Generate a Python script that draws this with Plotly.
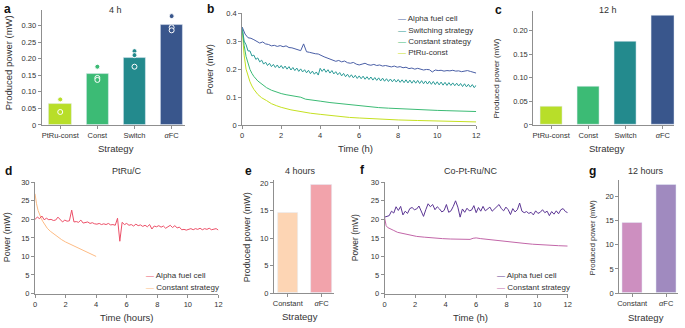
import plotly.graph_objects as go

W, H = 685, 328

# ---------------- data ----------------
strategies = ["PtRu-const", "Const", "Switch", "αFC"]
strategy_ticktext = ["PtRu-const", "Const", "Switch", "<i>α</i>FC"]
bar_colors = ["#b8de29", "#3cbb75", "#238a8d", "#39568c"]

power_4h = [0.063, 0.153, 0.202, 0.303]
pts_4h_cat = ["PtRu-const", "PtRu-const", "Const", "Const", "Const",
              "Switch", "Switch", "Switch", "αFC", "αFC", "αFC"]
pts_4h_val = [0.077, 0.039, 0.176, 0.142, 0.136, 0.223, 0.211, 0.176, 0.329, 0.295, 0.286]

power_12h = [0.039, 0.081, 0.177, 0.231]

# panel b
b_alpha_step = 0.15
b_alpha = [0.350, 0.325, 0.312, 0.310, 0.305, 0.298, 0.293, 0.297, 0.290, 0.288,
           0.283, 0.285, 0.281, 0.284, 0.280, 0.283, 0.277, 0.276, 0.272, 0.268,
           0.266, 0.290, 0.262, 0.260, 0.257, 0.255, 0.254, 0.248, 0.244, 0.240,
           0.236, 0.232, 0.228, 0.231, 0.226, 0.229, 0.223, 0.221, 0.224, 0.218,
           0.215, 0.218, 0.221, 0.216, 0.214, 0.217, 0.213, 0.215, 0.211, 0.213,
           0.210, 0.208, 0.211, 0.207, 0.209, 0.205, 0.207, 0.202, 0.204, 0.200,
           0.203, 0.200, 0.197, 0.199, 0.198, 0.190, 0.197, 0.195, 0.196, 0.193,
           0.195, 0.194, 0.196, 0.193, 0.194, 0.191, 0.193, 0.195, 0.192, 0.188,
           0.186]

b_switch_step = 0.1
b_switch = [0.350, 0.300, 0.287, 0.265, 0.265, 0.247, 0.250, 0.235, 0.240, 0.226,
            0.232, 0.218, 0.225, 0.213, 0.221, 0.209, 0.217, 0.206, 0.215, 0.204,
            0.213, 0.202, 0.211, 0.200, 0.209, 0.197, 0.206, 0.195, 0.204, 0.192,
            0.201, 0.190, 0.198, 0.187, 0.196, 0.184, 0.193, 0.182, 0.190, 0.179,
            0.203, 0.192, 0.201, 0.189, 0.198, 0.186, 0.195, 0.183, 0.191, 0.180,
            0.188, 0.176, 0.185, 0.173, 0.182, 0.171, 0.180, 0.169, 0.178, 0.167,
            0.176, 0.166, 0.175, 0.164, 0.173, 0.163, 0.172, 0.161, 0.170, 0.160,
            0.169, 0.158, 0.168, 0.157, 0.166, 0.156, 0.165, 0.155, 0.164, 0.154,
            0.163, 0.153, 0.162, 0.152, 0.162, 0.151, 0.161, 0.150, 0.160, 0.150,
            0.160, 0.149, 0.159, 0.148, 0.158, 0.147, 0.157, 0.146, 0.156, 0.145,
            0.155, 0.144, 0.154, 0.143, 0.153, 0.142, 0.152, 0.142, 0.151, 0.141,
            0.150, 0.140, 0.149, 0.138, 0.148, 0.137, 0.146, 0.136, 0.145, 0.134,
            0.143]

b_const_t = [0, 0.05, 0.1, 0.2, 0.3, 0.4, 0.5, 0.6, 0.8, 1.0, 1.25, 1.5, 1.75, 2.0,
             2.25, 2.5, 2.75, 3.0, 3.25, 3.5, 4.0, 4.5, 5.0, 5.5, 6.0, 6.5, 7.0, 7.5,
             8.0, 8.5, 9.0, 9.5, 10.0, 10.5, 11.0, 11.5, 12.0]
b_const = [0.340, 0.310, 0.285, 0.245, 0.218, 0.199, 0.185, 0.174, 0.158, 0.146,
           0.134, 0.125, 0.118, 0.113, 0.109, 0.106, 0.104, 0.100, 0.093, 0.090,
           0.086, 0.081, 0.077, 0.073, 0.069, 0.066, 0.063, 0.061, 0.059, 0.057,
           0.055, 0.054, 0.053, 0.052, 0.051, 0.050, 0.049]

b_ptru_t = [0, 0.05, 0.1, 0.2, 0.3, 0.4, 0.5, 0.6, 0.8, 1.0, 1.25, 1.5, 1.75, 2.0,
            2.5, 3.0, 3.5, 4.0, 4.5, 5.0, 5.5, 6.0, 7.0, 8.0, 9.0, 10.0, 11.0, 12.0]
b_ptru = [0.340, 0.290, 0.250, 0.200, 0.172, 0.155, 0.140, 0.128, 0.110, 0.098,
          0.088, 0.077, 0.070, 0.064, 0.055, 0.048, 0.043, 0.039, 0.035, 0.031,
          0.028, 0.026, 0.022, 0.019, 0.017, 0.015, 0.013, 0.012]

# panel d (PtRu/C)
d_alpha_step = 0.15
d_alpha = [20.0, 20.6, 20.2, 20.9, 19.9, 20.3, 19.9, 20.0, 19.7, 19.8,
           20.6, 19.9, 19.3, 19.8, 19.5, 19.6, 22.5, 19.3, 19.4, 19.2,
           19.8, 19.0, 19.2, 19.3, 18.9, 19.1, 18.8, 18.7, 18.9, 18.6,
           18.8, 18.6, 18.9, 18.5, 18.6, 18.4, 20.3, 14.1, 19.2, 18.6,
           18.9, 18.4, 18.6, 18.2, 18.7, 18.3, 18.5, 18.1, 18.4, 18.0,
           18.6, 17.4, 18.2, 18.0, 18.3, 17.9, 18.2, 17.6, 18.0, 18.4,
           17.8, 18.3, 17.7, 17.9, 17.2, 17.3, 17.1, 17.2, 17.5, 17.2,
           17.5, 17.3, 17.6, 17.2, 17.5, 17.3, 17.6, 17.2, 17.4, 17.5,
           17.1]
d_const_t = [0, 0.05, 0.1, 0.2, 0.3, 0.4, 0.5, 0.65, 0.8, 1.0, 1.25, 1.5, 1.75, 2.0,
             2.25, 2.5, 2.75, 3.0, 3.25, 3.5, 3.75, 4.0]
d_const = [26.9, 25.4, 24.2, 22.4, 21.2, 20.3, 19.5, 18.4, 17.6, 16.8, 16.0, 15.1,
           14.5, 13.9, 13.4, 12.9, 12.4, 12.0, 11.5, 11.0, 10.5, 10.0]

# panel e / g
short_strats = ["Constant", "αFC"]
short_ticktext = ["Constant", "<i>α</i>FC"]
power_e = [14.6, 19.7]
colors_e = ["#fdd5b4", "#f2a3ab"]
power_g = [14.5, 22.4]
colors_g = ["#cd8fc0", "#a08abf"]

# panel f (Co-Pt-Ru/NC)
f_alpha_step = 0.15
f_alpha = [20.6, 20.9, 21.0, 22.2, 21.7, 23.4, 22.4, 23.5, 21.2, 22.2,
           21.6, 22.9, 23.2, 22.6, 22.8, 23.6, 22.4, 20.8, 22.6, 24.2,
           23.4, 24.0, 22.6, 23.4, 22.8, 22.0, 22.4, 24.0, 21.9, 22.3,
           23.5, 25.0, 23.3, 20.6, 22.8, 21.9, 23.0, 22.3, 22.5, 23.7,
           21.8, 23.2, 22.2, 23.5, 22.3, 22.8, 23.3, 22.2, 22.8, 23.6,
           24.0, 22.9, 22.3, 23.3, 22.6, 21.3, 22.9, 22.0, 22.6, 24.4,
           22.2, 21.8, 22.1, 21.6, 21.9, 21.2, 22.3, 21.6, 21.9, 22.6,
           21.8, 22.2, 21.0, 22.1, 21.4, 22.3, 21.5, 22.6, 22.9, 22.1,
           21.8]
f_const_t = [0, 0.05, 0.1, 0.2, 0.4, 0.6, 0.85, 1.3, 1.7, 2.1, 2.6, 3.2, 3.8, 4.3,
             4.8, 5.1, 5.4, 5.6, 5.8, 6.0, 6.3, 6.9, 7.5, 8.0, 8.6, 9.2, 9.7, 10.3,
             10.8, 11.4, 12.0]
f_const = [20.4, 19.2, 18.3, 17.8, 17.3, 17.0, 16.5, 16.1, 15.8, 15.4, 15.2, 14.9,
           14.8, 14.7, 14.6, 14.5, 14.5, 14.6, 14.9, 15.0, 14.8, 14.5, 14.2, 13.9,
           13.7, 13.5, 13.3, 13.1, 13.0, 12.9, 12.8]


def times(step, n):
    return [round(i * step, 3) for i in range(n)]


# ---------------- figure ----------------
TXT = "#333333"
AX = "#8f8f8f"
FONT = "Liberation Sans"

fig = go.Figure()

# a
fig.add_trace(go.Bar(x=strategies, y=power_4h, marker_color=bar_colors, width=0.6,
                     xaxis="x", yaxis="y"))
cmap = dict(zip(strategies, bar_colors))
fig.add_trace(go.Scatter(x=pts_4h_cat, y=pts_4h_val, mode="markers",
                         marker=dict(size=5, color=[cmap[c] for c in pts_4h_cat],
                                     line=dict(color="white", width=1)),
                         xaxis="x", yaxis="y"))
# b
fig.add_trace(go.Scatter(x=b_ptru_t, y=b_ptru, mode="lines", line=dict(color="#c5e021", width=1),
                         xaxis="x2", yaxis="y2"))
fig.add_trace(go.Scatter(x=b_const_t, y=b_const, mode="lines", line=dict(color="#3cbb75", width=1),
                         xaxis="x2", yaxis="y2"))
fig.add_trace(go.Scatter(x=times(b_switch_step, len(b_switch)), y=b_switch, mode="lines",
                         line=dict(color="#2a9a96", width=1), xaxis="x2", yaxis="y2"))
fig.add_trace(go.Scatter(x=times(b_alpha_step, len(b_alpha)), y=b_alpha, mode="lines",
                         line=dict(color="#4a5fa6", width=1), xaxis="x2", yaxis="y2"))
# c
fig.add_trace(go.Bar(x=strategies, y=power_12h, marker_color=bar_colors, width=0.6,
                     xaxis="x3", yaxis="y3"))
# d
fig.add_trace(go.Scatter(x=d_const_t, y=d_const, mode="lines", line=dict(color="#fdbb84", width=1),
                         xaxis="x4", yaxis="y4"))
fig.add_trace(go.Scatter(x=times(d_alpha_step, len(d_alpha)), y=d_alpha, mode="lines",
                         line=dict(color="#ec5068", width=1), xaxis="x4", yaxis="y4"))
# e
fig.add_trace(go.Bar(x=short_strats, y=power_e, marker_color=colors_e, width=0.61,
                     xaxis="x5", yaxis="y5"))
# f
fig.add_trace(go.Scatter(x=f_const_t, y=f_const, mode="lines", line=dict(color="#c266a8", width=1),
                         xaxis="x6", yaxis="y6"))
fig.add_trace(go.Scatter(x=times(f_alpha_step, len(f_alpha)), y=f_alpha, mode="lines",
                         line=dict(color="#5c3694", width=1), xaxis="x6", yaxis="y6"))
# g
fig.add_trace(go.Bar(x=short_strats, y=power_g, marker_color=colors_g, width=0.61,
                     xaxis="x7", yaxis="y7"))


def xd(l, r):
    return [l / W, r / W]


def yd(bottom, top):
    return [1 - bottom / H, 1 - top / H]


def axis(**kw):
    base = dict(showline=True, linecolor=AX, linewidth=1, ticks="outside", ticklen=3,
                tickcolor=AX, tickwidth=1, showgrid=False, zeroline=False,
                tickfont=dict(size=7.5, color=TXT, family=FONT), fixedrange=True)
    base.update(kw)
    return base


layout = dict(
    width=W, height=H, margin=dict(l=0, r=0, t=0, b=0),
    paper_bgcolor="white", plot_bgcolor="white", showlegend=False,
    font=dict(family=FONT, color=TXT), bargap=0,
    xaxis=axis(domain=xd(40, 185), range=[-0.5, 3.37], anchor="y",
               tickvals=strategies, ticktext=strategy_ticktext),
    yaxis=axis(domain=yd(124.3, 6), range=[0, 0.348], anchor="x",
               tickvals=[0, 0.05, 0.10, 0.15, 0.20, 0.25, 0.30],
               ticktext=["0", "0.05", "0.10", "0.15", "0.20", "0.25", "0.30"]),
    xaxis2=axis(domain=xd(242.3, 478.4), range=[0, 12], anchor="y2",
                tickvals=[0, 2, 4, 6, 8, 10, 12]),
    yaxis2=axis(domain=yd(124.7, 9.3), range=[0, 0.4], anchor="x2",
                tickvals=[0, 0.1, 0.2, 0.3, 0.4], ticktext=["0", "0.1", "0.2", "0.3", "0.4"]),
    xaxis3=axis(domain=xd(536, 678.3), range=[-0.48, 3.31], anchor="y3",
                tickvals=strategies, ticktext=strategy_ticktext),
    yaxis3=axis(domain=yd(124.3, 6.7), range=[0, 0.2425], anchor="x3",
                tickvals=[0, 0.05, 0.10, 0.15, 0.20],
                ticktext=["0", "0.05", "0.10", "0.15", "0.20"]),
    xaxis4=axis(domain=xd(33.3, 218.3), range=[0, 12], anchor="y4",
                tickvals=[0, 2, 4, 6, 8, 10, 12]),
    yaxis4=axis(domain=yd(297.7, 183.3), range=[0, 30], anchor="x4",
                tickvals=[0, 5, 10, 15, 20, 25, 30]),
    xaxis5=axis(domain=xd(274.3, 335), range=[-0.41, 1.37], anchor="y5",
                tickvals=short_strats, ticktext=short_ticktext),
    yaxis5=axis(domain=yd(297.3, 180.7), range=[0, 20.57], anchor="x5",
                tickvals=[0, 5, 10, 15, 20]),
    xaxis6=axis(domain=xd(386, 570.7), range=[0, 12], anchor="y6",
                tickvals=[0, 2, 4, 6, 8, 10, 12]),
    yaxis6=axis(domain=yd(297.7, 183.3), range=[0, 30], anchor="x6",
                tickvals=[0, 5, 10, 15, 20, 25, 30]),
    xaxis7=axis(domain=xd(622.7, 681.7), range=[-0.38, 1.34], anchor="y7",
                tickvals=short_strats, ticktext=short_ticktext),
    yaxis7=axis(domain=yd(297.3, 180.7), range=[0, 23.4], anchor="x7",
                tickvals=[0, 5, 10, 15, 20]),
)
fig.update_layout(**layout)


def note(text, x, y, size=9.5, angle=0, bold=False, xanchor="center", yanchor="middle"):
    if bold:
        text = "<b>" + text + "</b>"
    fig.add_annotation(text=text, x=x / W, y=1 - y / H, xref="paper", yref="paper",
                       showarrow=False, textangle=angle, xanchor=xanchor, yanchor=yanchor,
                       font=dict(size=size, color=TXT if not bold else "#111", family=FONT))


# panel letters
for letter, lx, ly in [("a", 0, 5), ("b", 205, 5), ("c", 495, 6), ("d", 1, 172),
                       ("e", 243, 172), ("f", 359, 171), ("g", 590, 172)]:
    note(letter, lx, ly, size=12, bold=True, xanchor="left")

# panel titles
note("4 h", 115, 6, size=9)
note("12 h", 611, 6, size=9)
note("PtRu/C", 126, 172, size=9)
note("4 hours", 301, 172, size=9)
note("Co-Pt-Ru/NC", 473, 172, size=9)
note("12 hours", 650, 172, size=9)

# axis titles
note("Produced power (mW)", 6, 60, size=9.5, angle=-90)
note("Strategy", 115, 149, size=9.5)
note("Power (mW)", 210, 67, size=9, angle=-90)
note("Time (h)", 357, 149, size=9.5)
note("Produced power (mW)", 499, 77, size=8, angle=-90)
note("Strategy", 610, 149, size=9.5)
note("Power (mW)", 5, 240, size=9, angle=-90)
note("Time (hours)", 126, 322, size=9.5)
note("Produced power (mW)", 248, 240, size=9, angle=-90)
note("Strategy", 301, 321, size=9.5)
note("Power (mW)", 357, 240, size=8.5, angle=-90)
note("Time (h)", 473, 322, size=9.5)
note("Produced power (mW)", 596, 240, size=7.5, angle=-90)
note("Strategy", 650, 322, size=9.5)


def legend_item(color, label, x, y, size=8):
    fig.add_annotation(text="<span style='color:%s'>—</span> %s" % (color, label),
                       x=x / W, y=1 - y / H, xref="paper", yref="paper", showarrow=False,
                       xanchor="left", yanchor="middle",
                       font=dict(size=size, color=TXT, family=FONT))


legend_item("#4a5fa6", "Alpha fuel cell", 397, 15)
legend_item("#2a9a96", "Switching strategy", 397, 27)
legend_item("#3cbb75", "Constant strategy", 397, 39)
legend_item("#c5e021", "PtRu-const", 397, 50)

legend_item("#ec5068", "Alpha fuel cell", 143, 279)
legend_item("#fdbb84", "Constant strategy", 143, 291)

legend_item("#5c3694", "Alpha fuel cell", 497, 279)
legend_item("#c266a8", "Constant strategy", 497, 291)

fig.write_html("out.html", config={"displayModeBar": False, "staticPlot": False},
               post_script="document.body.style.margin='0';document.body.style.overflow='hidden';")
